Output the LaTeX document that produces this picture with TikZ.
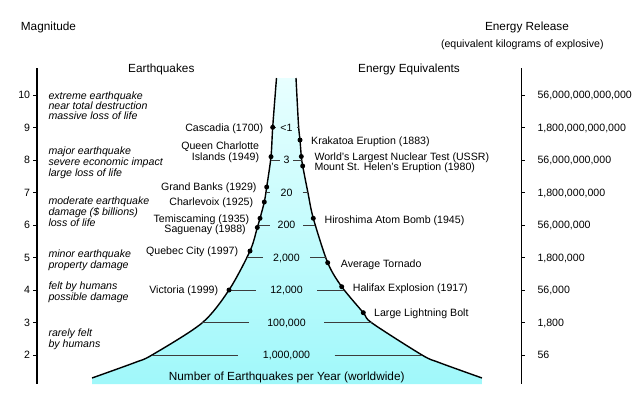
\documentclass[tikz,border=0pt]{standalone}
\usepackage{fontspec}
\setmainfont{Liberation Sans}
\definecolor{fillTop}{RGB}{232,255,255}
\definecolor{fillBot}{RGB}{160,248,250}
\definecolor{tickgray}{RGB}{60,60,60}
\begin{document}
\begin{tikzpicture}[x=1pt,y=-1pt,
  lbl/.style={font=\fontsize{10.6}{12}\selectfont, inner sep=0pt, text height=7.6pt, text depth=0pt},
  ttl/.style={font=\fontsize{11.8}{14}\selectfont, inner sep=0pt, text height=8.4pt, text depth=0pt},
  desc/.style={font=\fontsize{10.6}{9.6}\selectfont\itshape, inner sep=0pt, align=left, anchor=north west},
  dotn/.style={circle, fill=black, inner sep=0pt, minimum size=5pt},
  axisline/.style={line width=1.5pt},
  edgeline/.style={line width=1.4pt},
  gl/.style={draw=tickgray, line width=0.75pt},
  cnt/.style={lbl, anchor=center},
  lt/.style={lbl, anchor=east},
  rt/.style={lbl, anchor=west}
]
\useasboundingbox (0,0) rectangle (640,399);

% funnel fill
\shade[top color=fillTop, bottom color=fillBot]
  plot[smooth,tension=0.5] coordinates {(276.5,78) (272.7,127.3) (271,156.7) (266.7,187) (264.3,202) (260,218.3) (257.3,227.5) (250,251) (229,290) (202,323) (152,355) (135,362.5) (92,378)}
  -- (92,384) -- (482,384)
  -- plot[smooth,tension=0.5] coordinates {(482,378) (439,362.5) (422,355) (372,323) (363.3,312.7) (341.7,286.7) (327.7,262.7) (313.3,218.3) (308,193) (302.7,166) (301.3,156.5) (300,140) (298.5,125) (296,78)}
  -- cycle;

% funnel edges
\draw[edgeline] plot[smooth,tension=0.5] coordinates {(276.5,78) (272.7,127.3) (271,156.7) (266.7,187) (264.3,202) (260,218.3) (257.3,227.5) (250,251) (229,290) (202,323) (152,355) (135,362.5) (92,378)};
\draw[edgeline] plot[smooth,tension=0.5] coordinates {(482,378) (439,362.5) (422,355) (372,323) (363.3,312.7) (341.7,286.7) (327.7,262.7) (313.3,218.3) (308,193) (302.7,166) (301.3,156.5) (300,140) (298.5,125) (296,78)};

% titles
\node[ttl, anchor=west] (tMag) at (20.7,26) {Magnitude};
\node[ttl] (tEnergy) at (527,26) {Energy Release};
\node[lbl] (tEquiv) at (522.3,43.3) {(equivalent kilograms of explosive)};
\node[ttl] (tEq) at (161.3,68.3) {Earthquakes};
\node[ttl] (tEE) at (409,68) {Energy Equivalents};
\node[ttl] (tNum) at (286.7,376.7) {Number of Earthquakes per Year (worldwide)};

% axes
\coordinate (laTop) at (37,68);
\coordinate (laBot) at (37,384);
\coordinate (raTop) at (521.7,68);
\coordinate (raBot) at (521.7,384);
\draw[axisline] (laTop) -- (laBot);
\draw[axisline] (raTop) -- (raBot);

\foreach \m/\yy/\ev in {10/95/{56,000,000,000,000}, 9/127.5/{1,800,000,000,000}, 8/160/{56,000,000,000}, 7/192.5/{1,800,000,000}, 6/225/{56,000,000}, 5/257.5/{1,800,000}, 4/290/{56,000}, 3/322.5/{1,800}, 2/355/{56}}{
  \node[lt] (mag\m) at (30.3,\yy) {\m};
  \coordinate (lt\m) at (33,\yy);
  \coordinate (ltA\m) at (37,\yy);
  \draw[line width=0.8pt] (lt\m) -- (ltA\m);
  \coordinate (rt\m) at (521.7,\yy);
  \coordinate (rtA\m) at (524.5,\yy);
  \draw[line width=0.8pt] (rt\m) -- (rtA\m);
  \node[rt] (ev\m) at (537.3,\yy) {\ev};
}

% descriptions
\node[desc] (d10) at (48.3,91.2) {extreme earthquake\\near total destruction\\massive loss of life};
\node[desc] (d8) at (48.3,146.9) {major earthquake\\severe economic impact\\large loss of life};
\node[desc] (d6) at (48.3,196.2) {moderate earthquake\\damage (\$ billions)\\loss of life};
\node[desc] (d5) at (48.3,249.5) {minor earthquake\\property damage};
\node[desc] (d4) at (48.3,281.9) {felt by humans\\possible damage};
\node[desc] (d2) at (48.3,328.9) {rarely felt\\by humans};

% edge coordinates at magnitudes
\coordinate (le9) at (272.7,127.5);  \coordinate (re9) at (298.7,127.5);
\coordinate (le8) at (270.5,160);    \coordinate (re8) at (301.8,160);
\coordinate (le7) at (265.9,192.5);  \coordinate (re7) at (307.9,192.5);
\coordinate (le6) at (258.3,225);    \coordinate (re6) at (315.4,225);
\coordinate (le5) at (246.5,257.5);  \coordinate (re5) at (326.0,257.5);
\coordinate (le4) at (229,290);      \coordinate (re4) at (343.5,290);
\coordinate (le3) at (202.4,322.5);  \coordinate (re3) at (371.6,322.5);
\coordinate (le2) at (152,355);      \coordinate (re2) at (422,355);

% counts
\node[cnt, minimum width=20.4pt] (c9) at (286.5,127.5) {<1};
\node[cnt, minimum width=13pt] (c8) at (286.5,160) {3};
\node[cnt, minimum width=32pt] (c7) at (286.5,192.5) {20};
\node[cnt, minimum width=33pt] (c6) at (286.5,225) {200};
\node[cnt, minimum width=47pt] (c5) at (286.5,257.5) {2,000};
\node[cnt, minimum width=61pt] (c4) at (286.5,290) {12,000};
\node[cnt, minimum width=75pt] (c3) at (286.5,322.5) {100,000};
\node[cnt, minimum width=96pt] (c2) at (286.5,355) {1,000,000};
\foreach \m in {9,8,7,6,5,4,3,2}{
  \draw[gl] (le\m) -- (c\m.west);
  \draw[gl] (c\m.east) -- (re\m);
}

% earthquake dots and labels
\node[dotn] (pCas) at (272.7,127.3) {};
\node[dotn] (pQCI) at (271,156.7) {};
\node[dotn] (pGB) at (266.7,187) {};
\node[dotn] (pCha) at (264.3,202) {};
\node[dotn] (pTem) at (260,218.3) {};
\node[dotn] (pSag) at (257.3,227.5) {};
\node[dotn] (pQue) at (250,251) {};
\node[dotn] (pVic) at (229,290) {};

\node[lt] (nCas) at (263.3,127.3) {Cascadia (1700)};
\node[font=\fontsize{10.6}{10.7}\selectfont, inner sep=0pt, align=right, anchor=north east] (nQCI) at (259.3,142.1) {Queen Charlotte\\Islands (1949)};
\node[lt] (nGB) at (256.7,187) {Grand Banks (1929)};
\node[lt] (nCha) at (253.3,201.7) {Charlevoix (1925)};
\node[lt] (nTem) at (249.3,218.8) {Temiscaming (1935)};
\node[lt] (nSag) at (246,228.3) {Saguenay (1988)};
\node[lt] (nQue) at (238.3,251) {Quebec City (1997)};
\node[lt] (nVic) at (218.3,290) {Victoria (1999)};

% energy dots and labels
\node[dotn] (pKra) at (300,140) {};
\node[dotn] (pWLN) at (301.3,156.5) {};
\node[dotn] (pMSH) at (302.7,166) {};
\node[dotn] (pHir) at (313.3,218.3) {};
\node[dotn] (pTor) at (327.7,262.7) {};
\node[dotn] (pHal) at (341.7,286.7) {};
\node[dotn] (pLLB) at (363.3,312.7) {};

\node[rt] (nKra) at (311,140.7) {Krakatoa Eruption (1883)};
\node[rt] (nWLN) at (314.3,157.1) {World's Largest Nuclear Test (USSR)};
\node[rt] (nMSH) at (314.3,167) {Mount St. Helen's Eruption (1980)};
\node[rt] (nHir) at (324.5,219.8) {Hiroshima Atom Bomb (1945)};
\node[rt] (nTor) at (340.7,264) {Average Tornado};
\node[rt] (nHal) at (352.7,287.3) {Halifax Explosion (1917)};
\node[rt] (nLLB) at (374,312.7) {Large Lightning Bolt};
\end{tikzpicture}
\end{document}
